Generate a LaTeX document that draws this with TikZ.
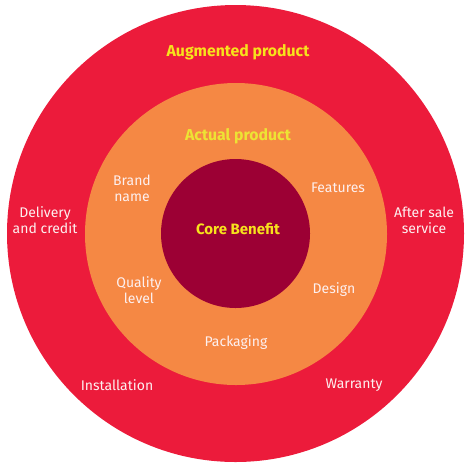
\documentclass[tikz,border=0pt]{standalone}
\usepackage{fontspec}
\setmainfont{Fira Sans}
\definecolor{outerred}{HTML}{EC1B3B}
\definecolor{midorange}{HTML}{F58844}
\definecolor{coredark}{HTML}{9C0034}
\definecolor{ytext}{HTML}{F7E21C}
\definecolor{ytext2}{HTML}{EDE334}
\definecolor{wtext}{HTML}{FDF0F0}
\tikzset{
  ring/.style={circle,inner sep=0pt,draw=none},
  lbl/.style={text=wtext,font=\fontsize{14}{16}\selectfont,align=center,inner sep=0pt},
  title/.style={font=\bfseries\fontsize{15.8}{18}\selectfont,inner sep=0pt}
}
\begin{document}
\begin{tikzpicture}[x=1pt,y=-1pt]
\useasboundingbox[fill=white] (0,0) rectangle (470,464);
\node[ring,fill=outerred,minimum size=457pt] (outer) at (235.5,233.5) {};
\node[ring,fill=midorange,minimum size=302pt] (actual) at (236,234) {};
\node[ring,fill=coredark,minimum size=149pt] (core) at (235.5,233.5) {};
\node[title,text=ytext] (aug) at (238,52) {Augmented product};
\node[title,text=ytext2] (act) at (238,136) {Actual product};
\node[title,text=ytext,font=\bfseries\fontsize{15}{18}\selectfont] (cb) at (238,229) {Core Benefit};
\node[lbl] (brand) at (132,188.5) {Brand\\name};
\node[lbl] (feat) at (338,188) {Features};
\node[lbl] (deliv) at (45,220) {Delivery\\and credit};
\node[lbl] (after) at (424,220) {After sale\\service};
\node[lbl] (qual) at (139,290) {Quality\\level};
\node[lbl] (design) at (334,290) {Design};
\node[lbl] (pack) at (236,343) {Packaging};
\node[lbl] (inst) at (117,385) {Installation};
\node[lbl] (warr) at (354,385) {Warranty};
\end{tikzpicture}
\end{document}
